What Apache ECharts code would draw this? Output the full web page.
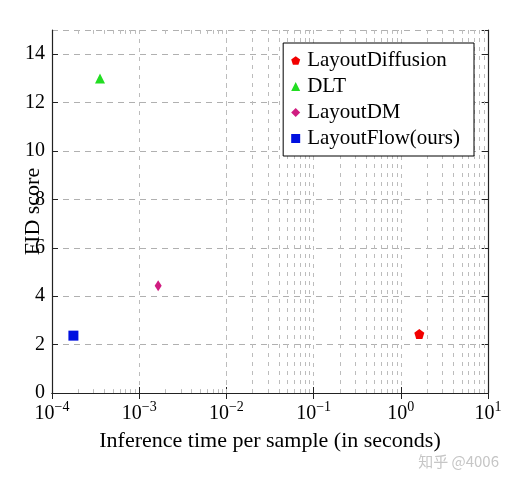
<!DOCTYPE html>
<html>
<head>
    <meta charset="utf-8">
    <script src="https://cdn.jsdelivr.net/npm/echarts@6/dist/echarts.min.js"></script>
</head>
<body style="margin: 0; background: #fff">
    <div id="container" style="width: 513px; height: 484px;"></div>
    <script>
        // values
        var methods = ['LayoutDiffusion', 'DLT', 'LayoutDM', 'LayoutFlow(ours)'];
        var inferenceTime = [1.63, 3.55e-4, 1.65e-3, 1.76e-4];
        var fidScore = [2.44, 13.0, 4.43, 2.37];
        var colors = ['#f20000', '#22dd22', '#d01c80', '#0010e0'];
        var symbols = [
            'path://M0,-1 L0.951,-0.309 L0.588,0.809 L-0.588,0.809 L-0.951,-0.309 Z',
            'triangle', 'diamond', 'rect'
        ];
        var symbolSizes = [10, 10, [7, 11], 10];

        var xExponents = [-4, -3, -2, -1, 0, 1];
        var yTicks = [0, 2, 4, 6, 8, 10, 12, 14];
        var yMax = 15;

        var serif = 'Liberation Serif';

        // minor grid positions 2..9 x 10^k
        var minorX = [];
        for (var e = -4; e < 1; e++) {
            for (var m = 2; m <= 9; m++) minorX.push(m * Math.pow(10, e));
        }
        var minorLines = [];
        minorX.forEach(function (v) {
            minorLines.push({ xAxis: v });
            minorLines.push([{ coord: [v, 0] }, { coord: [v, 0.16] }]);
            minorLines.push([{ coord: [v, yMax - 0.16] }, { coord: [v, yMax] }]);
        });

        var chart = echarts.init(document.getElementById('container'));

        var series = methods.map(function (name, i) {
            return {
                name: name,
                type: 'scatter',
                symbol: symbols[i],
                symbolSize: symbolSizes[i],
                itemStyle: { color: colors[i], opacity: 1 },
                data: [[inferenceTime[i], fidScore[i]]],
                z: 5
            };
        });
        series.push({
            type: 'line',
            data: [],
            silent: true,
            z: 1,
            markLine: {
                silent: true,
                symbol: 'none',
                animation: false,
                label: { show: false },
                lineStyle: { color: '#bcbcbc', type: [4, 5], width: 1 },
                emphasis: { disabled: true },
                data: minorLines
            }
        });

        var tickLabel = function (v) {
            var e = Math.round(Math.log10(v));
            return '{b|10}{s|' + String(e).replace('-', '\u2212') + '}';
        };

        var option = {
            animation: false,
            grid: { left: 52, right: 25, top: 30, bottom: 91, containLabel: false, outerBoundsMode: 'none' },
            legend: {
                orient: 'vertical',
                right: 39,
                top: 43,
                z: 20,
                data: methods,
                backgroundColor: '#fff',
                borderColor: '#000',
                borderWidth: 1,
                padding: [7, 14, 7, 8],
                itemGap: 5,
                itemWidth: 9,
                itemHeight: 9,
                textStyle: { fontFamily: serif, fontSize: 21, color: '#000', padding: [0, 0, 0, 2] }
            },
            xAxis: [{
                type: 'log',
                logBase: 10,
                min: Math.pow(10, xExponents[0]),
                max: Math.pow(10, xExponents[xExponents.length - 1]),
                name: 'Inference time per sample (in seconds)',
                nameLocation: 'middle',
                nameGap: 37,
                nameMoveOverlap: false,
                nameTextStyle: { fontFamily: serif, fontSize: 22, color: '#000' },
                axisLine: { show: true, lineStyle: { color: '#222', width: 1.2 } },
                axisTick: { inside: true, length: 6, lineStyle: { color: '#222' } },
                axisLabel: {
                    formatter: tickLabel,
                    margin: 7,
                    rich: {
                        b: { fontFamily: serif, fontSize: 20, color: '#000', lineHeight: 24, verticalAlign: 'bottom' },
                        s: { fontFamily: serif, fontSize: 14, color: '#000', lineHeight: 14, verticalAlign: 'top' }
                    }
                },
                splitLine: { show: true, lineStyle: { color: '#bcbcbc', type: [4, 5] } }
            }, {
                type: 'log',
                logBase: 10,
                position: 'top',
                min: Math.pow(10, xExponents[0]),
                max: Math.pow(10, xExponents[xExponents.length - 1]),
                axisLine: { show: true, lineStyle: { color: '#222', width: 1.2 } },
                axisTick: { inside: true, length: 6, lineStyle: { color: '#222' } },
                axisLabel: { show: false },
                splitLine: { show: false }
            }],
            yAxis: [{
                type: 'value',
                min: 0,
                max: yMax,
                interval: 2,
                name: 'FID score',
                nameLocation: 'middle',
                nameGap: 8,
                nameRotate: 90,
                nameMoveOverlap: false,
                nameTextStyle: { fontFamily: serif, fontSize: 22, color: '#000' },
                axisLine: { show: true, lineStyle: { color: '#222', width: 1.2 } },
                axisTick: { show: true, inside: true, length: 6, lineStyle: { color: '#222' } },
                axisLabel: {
                    fontFamily: serif, fontSize: 20, color: '#000', margin: 7,
                    showMaxLabel: false,
                    formatter: function (v) { return yTicks.indexOf(v) >= 0 ? String(v) : ''; }
                },
                splitLine: { show: true, lineStyle: { color: '#b0b0b0', type: [6, 5] } }
            }, {
                type: 'value',
                position: 'right',
                min: 0,
                max: yMax,
                interval: 2,
                axisLine: { show: true, lineStyle: { color: '#222', width: 1.2 } },
                axisTick: { show: true, inside: true, length: 6, lineStyle: { color: '#222' } },
                axisLabel: { show: false },
                splitLine: { show: false }
            }],
            graphic: [{
                type: 'text',
                right: 14,
                bottom: 15,
                style: { text: '知乎 @4006', fill: '#c6c6c6', font: '15px "Noto Sans CJK SC", sans-serif' }
            }],
            series: series
        };

        chart.setOption(option);
    </script>
</body>
</html>
